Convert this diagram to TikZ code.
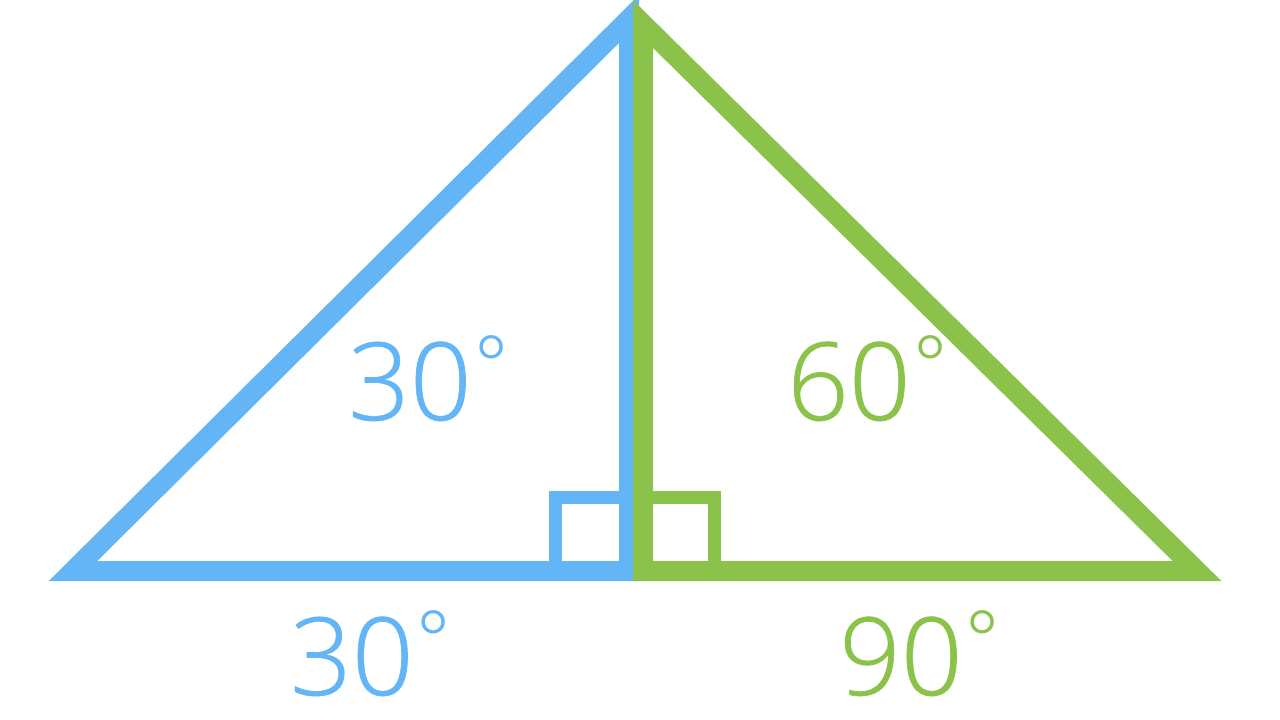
\documentclass[tikz,border=0pt]{standalone}
\usepackage{fontspec}
\IfFontExistsTF{Open Sans Light}{%
  \newfontfamily\lblfont{Open Sans Light}[FakeBold=0.6]%
  \newfontfamily\degfont{Open Sans Light}}{%
  \newfontfamily\lblfont{Open Sans}%
  \newfontfamily\degfont{Open Sans}}
\definecolor{tblue}{HTML}{64B5F6}
\definecolor{tgreen}{HTML}{8BC34A}
\newcommand{\degsign}{\hspace{3pt}\raisebox{27pt}{\degfont\fontsize{80}{80}\selectfont °}}
\begin{document}
\begin{tikzpicture}[x=1pt,y=-1pt,
  tri/.style={line width=20pt, line join=miter, miter limit=10},
  sq/.style={line width=13pt, line join=miter},
  lbl/.style={font=\lblfont\fontsize{108}{108}\selectfont, inner sep=0pt, anchor=base west}]
\useasboundingbox (0,0) rectangle (1280,720);
% blue triangle
\coordinate (bL) at (73,571);
\coordinate (bA) at (629,19);
\coordinate (bR) at (629,571);
% green triangle
\coordinate (gA) at (643,24);
\coordinate (gR) at (1197,571);
\coordinate (gL) at (643,571);
% right-angle marks
\coordinate (bs1) at (629,497);
\coordinate (bs2) at (555.5,497);
\coordinate (bs3) at (555.5,571);
\coordinate (gs1) at (643,497);
\coordinate (gs2) at (714.5,497);
\coordinate (gs3) at (714.5,571);
\draw[tri, tblue] (bL) -- (bA) -- (bR) -- cycle;
\draw[sq, tblue] (bs1) -- (bs2) -- (bs3);
\draw[tri, tgreen] (gA) -- (gR) -- (gL) -- cycle;
\draw[sq, tgreen] (gs1) -- (gs2) -- (gs3);
% labels
\node[lbl, tblue] (a1) at (348,420) {30\degsign};
\node[lbl, tgreen] (a2) at (787,420) {60\degsign};
\node[lbl, tblue] (a3) at (290,695) {30\degsign};
\node[lbl, tgreen] (a4) at (839,695) {90\degsign};
\end{tikzpicture}
\end{document}
